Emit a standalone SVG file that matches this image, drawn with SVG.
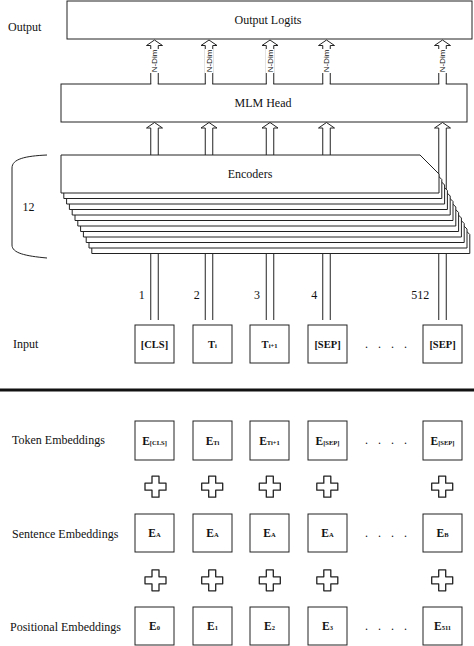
<svg xmlns="http://www.w3.org/2000/svg" xmlns:xlink="http://www.w3.org/1999/xlink" width="474" height="646" viewBox="0 0 474 646">
<style>
.box{fill:#fff;stroke:#222;stroke-width:1}
.ln{fill:none;stroke:#222;stroke-width:1}
.lbl{font-family:"Liberation Serif","Times New Roman",serif;font-size:12px;fill:#111}
.bt{font-family:"Liberation Serif","Times New Roman",serif;font-size:10.5px;font-weight:bold;fill:#111}
.be{font-family:"Liberation Serif","Times New Roman",serif;font-size:11.5px;font-weight:bold;fill:#111}
.sub{font-size:6.5px}
.nd{font-family:"Liberation Sans",Arial,sans-serif;font-size:8px;fill:#111}
.plus{fill:#fff;stroke:#222;stroke-width:1.3;stroke-linejoin:round}
</style>
<defs>
<polygon id="encLayer" class="box" points="61,155 420,155 439,174 439,193 61,193"/>
<path id="plusShape" class="plus" d="M-3.5,-10.5 H3.5 V-3.5 H10.5 V3.5 H3.5 V10.5 H-3.5 V3.5 H-10.5 V-3.5 H-3.5 Z"/>
</defs>
<rect width="474" height="646" fill="#fff"/>

<g id="labels">
<text class="lbl" x="8" y="31">Output</text>
<text class="lbl" x="13" y="348">Input</text>
<text class="lbl" x="28.5" y="211" text-anchor="middle">12</text>
<path class="ln" d="M47,155 C25,156 12,159 12,168 L12,245 C12,253 25,256 47,258"/>
<text class="lbl" x="12" y="444">Token Embeddings</text>
<text class="lbl" x="12" y="538">Sentence Embeddings</text>
<text class="lbl" x="10" y="631">Positional Embeddings</text>
</g>

<g id="output-logits">
<rect class="box" x="67" y="1" width="405" height="38"/>
<text class="lbl" x="268" y="24" text-anchor="middle">Output Logits</text>
</g>

<g id="mlm-head">
<rect class="box" x="61" y="84" width="406" height="38"/>
<text class="lbl" x="263" y="107" text-anchor="middle">MLM Head</text>
<rect x="151.25" y="83" width="6.5" height="2" fill="#fff"/>
<rect x="205.75" y="83" width="6.5" height="2" fill="#fff"/>
<rect x="266.75" y="83" width="6.5" height="2" fill="#fff"/>
<rect x="323.25" y="83" width="6.5" height="2" fill="#fff"/>
<rect x="439.25" y="83" width="6.5" height="2" fill="#fff"/>
</g>

<g id="connectors">
<path class="ln" d="M150.75,84 V45.5 H146.5 L154.5,40 L162.5,45.5 H158.25 V84"/>
<path class="ln" d="M205.25,84 V45.5 H201 L209,40 L217,45.5 H212.75 V84"/>
<path class="ln" d="M266.25,84 V45.5 H262 L270,40 L278,45.5 H273.75 V84"/>
<path class="ln" d="M322.75,84 V45.5 H318.5 L326.5,40 L334.5,45.5 H330.25 V84"/>
<path class="ln" d="M438.75,84 V45.5 H434.5 L442.5,40 L450.5,45.5 H446.25 V84"/>
<rect x="150" y="49" width="9" height="24" fill="#fff"/>
<rect x="204.5" y="49" width="9" height="24" fill="#fff"/>
<rect x="265.5" y="49" width="9" height="24" fill="#fff"/>
<rect x="322" y="49" width="9" height="24" fill="#fff"/>
<rect x="438" y="49" width="9" height="24" fill="#fff"/>
<text class="nd" transform="translate(154.5,61) rotate(-90)" dy="2.9" text-anchor="middle">N-Dim</text>
<text class="nd" transform="translate(209,61) rotate(-90)" dy="2.9" text-anchor="middle">N-Dim</text>
<text class="nd" transform="translate(270,61) rotate(-90)" dy="2.9" text-anchor="middle">N-Dim</text>
<text class="nd" transform="translate(326.5,61) rotate(-90)" dy="2.9" text-anchor="middle">N-Dim</text>
<text class="nd" transform="translate(442.5,61) rotate(-90)" dy="2.9" text-anchor="middle">N-Dim</text>
<path class="ln" d="M150.75,155 V128 H146.5 L154.5,122.5 L162.5,128 H158.25 V155"/>
<path class="ln" d="M205.25,155 V128 H201 L209,122.5 L217,128 H212.75 V155"/>
<path class="ln" d="M266.25,155 V128 H262 L270,122.5 L278,128 H273.75 V155"/>
<path class="ln" d="M322.75,155 V128 H318.5 L326.5,122.5 L334.5,128 H330.25 V155"/>
<path class="ln" d="M438.75,320 V128 H434.5 L442.5,122.5 L450.5,128 H446.25 V320"/>
<path class="ln" d="M150.75,200 V320 M158.25,200 V320"/>
<path class="ln" d="M205.25,200 V320 M212.75,200 V320"/>
<path class="ln" d="M266.25,200 V320 M273.75,200 V320"/>
<path class="ln" d="M322.75,200 V320 M330.25,200 V320"/>
<text class="lbl" x="141.7" y="299" text-anchor="middle">1</text>
<text class="lbl" x="196.7" y="299" text-anchor="middle">2</text>
<text class="lbl" x="257" y="299" text-anchor="middle">3</text>
<text class="lbl" x="314.3" y="299" text-anchor="middle">4</text>
<text class="lbl" x="420.3" y="299" text-anchor="middle">512</text>
</g>

<g id="encoders">
<use xlink:href="#encLayer" transform="translate(30.8,60.5)"/>
<use xlink:href="#encLayer" transform="translate(28,55)"/>
<use xlink:href="#encLayer" transform="translate(25.2,49.5)"/>
<use xlink:href="#encLayer" transform="translate(22.4,44)"/>
<use xlink:href="#encLayer" transform="translate(19.6,38.5)"/>
<use xlink:href="#encLayer" transform="translate(16.8,33)"/>
<use xlink:href="#encLayer" transform="translate(14,27.5)"/>
<use xlink:href="#encLayer" transform="translate(11.2,22)"/>
<use xlink:href="#encLayer" transform="translate(8.4,16.5)"/>
<use xlink:href="#encLayer" transform="translate(5.6,11)"/>
<use xlink:href="#encLayer" transform="translate(2.8,5.5)"/>
<use xlink:href="#encLayer"/>
<text class="lbl" x="250" y="178" text-anchor="middle">Encoders</text>
</g>

<g id="input-row">
<rect class="box" x="135" y="325" width="39" height="38"/>
<text class="bt" x="154.5" y="348" text-anchor="middle">[CLS]</text>
<rect class="box" x="193" y="325" width="39" height="38"/>
<text class="bt" x="212.5" y="348" text-anchor="middle">T<tspan class="sub">i</tspan></text>
<rect class="box" x="250" y="325" width="39" height="38"/>
<text class="bt" x="269.5" y="348" text-anchor="middle">T<tspan class="sub">i+1</tspan></text>
<rect class="box" x="308" y="325" width="39" height="38"/>
<text class="bt" x="327.5" y="348" text-anchor="middle">[SEP]</text>
<text class="lbl" x="365 378 391 404" y="348">....</text>
<rect class="box" x="423" y="325" width="39" height="38"/>
<text class="bt" x="442.5" y="348" text-anchor="middle">[SEP]</text>
</g>

<line id="separator" x1="0" y1="390" x2="474" y2="390" stroke="#111" stroke-width="3"/>

<g id="token-embeddings">
<rect class="box" x="135" y="421" width="39" height="39"/>
<text class="be" x="154.5" y="445" text-anchor="middle">E<tspan class="sub">[CLS]</tspan></text>
<rect class="box" x="193" y="421" width="39" height="39"/>
<text class="be" x="212.5" y="445" text-anchor="middle">E<tspan class="sub">Ti</tspan></text>
<rect class="box" x="250" y="421" width="39" height="39"/>
<text class="be" x="269.5" y="445" text-anchor="middle">E<tspan class="sub">Ti+1</tspan></text>
<rect class="box" x="308" y="421" width="39" height="39"/>
<text class="be" x="327.5" y="445" text-anchor="middle">E<tspan class="sub">[SEP]</tspan></text>
<text class="lbl" x="365 378 391 404" y="444">....</text>
<rect class="box" x="423" y="421" width="39" height="39"/>
<text class="be" x="442.5" y="445" text-anchor="middle">E<tspan class="sub">[SEP]</tspan></text>
</g>

<g id="plus-row-1">
<use xlink:href="#plusShape" transform="translate(155.5,486.7)"/>
<use xlink:href="#plusShape" transform="translate(212.2,486.7)"/>
<use xlink:href="#plusShape" transform="translate(269.8,486.7)"/>
<use xlink:href="#plusShape" transform="translate(327.3,486.7)"/>
<use xlink:href="#plusShape" transform="translate(442.2,486.7)"/>
</g>

<g id="sentence-embeddings">
<rect class="box" x="135" y="514" width="39" height="38"/>
<text class="be" x="154.5" y="537" text-anchor="middle">E<tspan class="sub">A</tspan></text>
<rect class="box" x="193" y="514" width="39" height="38"/>
<text class="be" x="212.5" y="537" text-anchor="middle">E<tspan class="sub">A</tspan></text>
<rect class="box" x="250" y="514" width="39" height="38"/>
<text class="be" x="269.5" y="537" text-anchor="middle">E<tspan class="sub">A</tspan></text>
<rect class="box" x="308" y="514" width="39" height="38"/>
<text class="be" x="327.5" y="537" text-anchor="middle">E<tspan class="sub">A</tspan></text>
<text class="lbl" x="365 378 391 404" y="537">....</text>
<rect class="box" x="423" y="514" width="39" height="38"/>
<text class="be" x="442.5" y="537" text-anchor="middle">E<tspan class="sub">B</tspan></text>
</g>

<g id="plus-row-2">
<use xlink:href="#plusShape" transform="translate(155.5,580.3)"/>
<use xlink:href="#plusShape" transform="translate(212.2,580.3)"/>
<use xlink:href="#plusShape" transform="translate(269.8,580.3)"/>
<use xlink:href="#plusShape" transform="translate(327.3,580.3)"/>
<use xlink:href="#plusShape" transform="translate(442.2,580.3)"/>
</g>

<g id="positional-embeddings">
<rect class="box" x="135" y="607" width="39" height="38"/>
<text class="be" x="154.5" y="630" text-anchor="middle">E<tspan class="sub">0</tspan></text>
<rect class="box" x="193" y="607" width="39" height="38"/>
<text class="be" x="212.5" y="630" text-anchor="middle">E<tspan class="sub">1</tspan></text>
<rect class="box" x="250" y="607" width="39" height="38"/>
<text class="be" x="269.5" y="630" text-anchor="middle">E<tspan class="sub">2</tspan></text>
<rect class="box" x="308" y="607" width="39" height="38"/>
<text class="be" x="327.5" y="630" text-anchor="middle">E<tspan class="sub">3</tspan></text>
<text class="lbl" x="365 378 391 404" y="630">....</text>
<rect class="box" x="423" y="607" width="39" height="38"/>
<text class="be" x="442.5" y="630" text-anchor="middle">E<tspan class="sub">511</tspan></text>
</g>
</svg>
